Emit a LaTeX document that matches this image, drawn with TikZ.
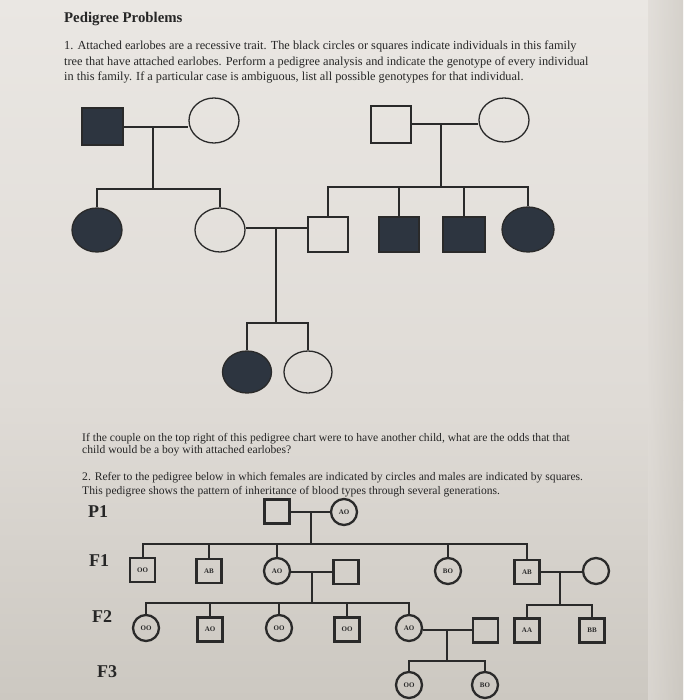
\documentclass[tikz,border=0pt]{standalone}
\usepackage{fontspec}
\setmainfont{Liberation Serif}
\usetikzlibrary{shapes.geometric}
\definecolor{linec}{HTML}{2A2A2A}
\definecolor{affc}{HTML}{2D3540}
\definecolor{bgtop}{HTML}{EAE7E3}
\definecolor{bgmid}{HTML}{DFDBD6}
\definecolor{bgbot}{HTML}{CCC8C1}
\definecolor{txtc}{HTML}{262626}
\begin{document}
\begin{tikzpicture}[x=1pt,y=-1pt,
  pline/.style={draw=linec, line width=1.3pt},
  male/.style={rectangle, draw=linec, line width=1.3pt, inner sep=0pt, minimum width=40pt, minimum height=36pt},
  female/.style={ellipse, draw=linec, line width=1.3pt, inner sep=0pt, minimum width=50pt, minimum height=44pt},
  aff/.style={fill=affc},
  bline/.style={draw=linec, line width=2pt},
  bm/.style={rectangle, draw=linec, line width=2.3pt, inner sep=0pt, minimum width=25pt, minimum height=24pt, font=\fontsize{7}{7}\selectfont\bfseries, text=linec},
  bf/.style={circle, draw=linec, line width=2.3pt, inner sep=0pt, minimum size=26pt, font=\fontsize{7}{7}\selectfont\bfseries, text=linec},
  gen/.style={font=\fontsize{18}{18}\selectfont\bfseries, anchor=west, inner sep=0pt, text=txtc},
  para/.style={anchor=north west, inner sep=0pt, align=left, text=txtc}
]
\useasboundingbox (0,0) rectangle (683,700);
\shade[top color=bgtop, bottom color=bgmid] (0,0) rectangle (683,400);
\shade[top color=bgmid, bottom color=bgbot] (0,400) rectangle (683,700);
\shade[left color=bgmid, right color=bgbot, opacity=0.7] (648,0) rectangle (683,700);

% ---------- texts ----------
\node[anchor=west, inner sep=0pt, font=\fontsize{14.8}{14.8}\selectfont\bfseries, text=txtc] (title) at (64,19) {Pedigree Problems};
\node[para, font=\fontsize{12.3}{15.5}\selectfont] (p1) at (64,41) {1. Attached earlobes are a recessive trait. The black circles or squares indicate individuals in this family\\
tree that have attached earlobes. Perform a pedigree analysis and indicate the genotype of every individual\\
in this family. If a particular case is ambiguous, list all possible genotypes for that individual.};
\node[para, font=\fontsize{11.6}{12.5}\selectfont] (q1) at (82,433) {If the couple on the top right of this pedigree chart were to have another child, what are the odds that that\\
child would be a boy with attached earlobes?};
\node[para, font=\fontsize{11.6}{14.5}\selectfont] (q2) at (82,472) {2. Refer to the pedigree below in which females are indicated by circles and males are indicated by squares.\\
This pedigree shows the pattern of inheritance of blood types through several generations.};

% ---------- pedigree 1 ----------
\node[male, aff, minimum width=41pt, minimum height=37pt] (m1) at (102.5,126.5) {};
\node[female, minimum height=45pt] (f1) at (214,120.5) {};
\node[male, minimum height=37pt] (m2) at (391,124.5) {};
\node[female] (f2) at (504,120) {};
\coordinate (c1) at (153,127);
\coordinate (s1) at (153,189);
\coordinate (c2) at (441,124);
\coordinate (s2) at (441,187);
\draw[pline] (m1.east |- c1) -- (c1 -| f1.west);
\draw[pline] (c1) -- (s1);
\draw[pline] (m2.east |- c2) -- (c2 -| f2.west);
\draw[pline] (c2) -- (s2);

\node[female, aff] (d1) at (97,230) {};
\node[female] (d2) at (220,230) {};
\node[male, minimum height=35pt] (d3) at (328,234.5) {};
\node[male, aff, minimum height=35pt] (d4) at (399,234.5) {};
\node[male, aff, minimum width=42pt, minimum height=35pt] (d5) at (464,234.5) {};
\node[female, aff, minimum width=52pt, minimum height=45pt] (d6) at (528,229.5) {};
\draw[pline] (d1.north) -- (d1.north |- s1) -- (d2.north |- s1) -- (d2.north);
\draw[pline] (d3.north) -- (d3.north |- s2) -- (d6.north |- s2) -- (d6.north);
\draw[pline] (d4.north) -- (d4.north |- s2);
\draw[pline] (d5.north) -- (d5.north |- s2);

\coordinate (c3) at (276,228);
\coordinate (s3) at (276,323);
\draw[pline] (d2.east |- c3) -- (c3 -| d3.west);
\draw[pline] (c3) -- (s3);
\node[female, aff, minimum width=49pt, minimum height=42pt] (g1) at (247,372) {};
\node[female, minimum width=48pt, minimum height=42pt] (g2) at (308,372) {};
\draw[pline] (g1.north) -- (g1.north |- s3) -- (g2.north |- s3) -- (g2.north);

% ---------- pedigree 2 ----------
\node[gen] (lp1) at (88,512) {P1};
\node[gen] (lf1) at (89,561) {F1};
\node[gen] (lf2) at (92,617) {F2};
\node[gen] (lf3) at (97,672) {F3};

\node[bm] (pm) at (277,511.5) {};
\node[bf] (pf) at (344,512) {AO};
\coordinate (c4) at (311,512);
\coordinate (s4) at (311,544);
\draw[bline] (pm.east |- c4) -- (pf.west |- c4);
\draw[bline] (c4) -- (s4);

\node[bm] (a1) at (142.5,570) {OO};
\node[bm] (a2) at (209,571) {AB};
\node[bf] (a3) at (277,571) {AO};
\node[bm] (a4) at (346,572) {};
\node[bf] (a5) at (448,571) {BO};
\node[bm] (a6) at (527,572) {AB};
\node[bf] (a7) at (596,571) {};
\draw[bline] (a1.north) -- (a1.north |- s4) -- (a6.north |- s4) -- (a6.north);
\draw[bline] (a2.north) -- (a2.north |- s4);
\draw[bline] (a3.north) -- (a3.north |- s4);
\draw[bline] (a5.north) -- (a5.north |- s4);

\coordinate (c5) at (312,572);
\coordinate (s5) at (312,603);
\draw[bline] (a3.east |- c5) -- (a4.west |- c5);
\draw[bline] (c5) -- (s5);
\coordinate (c6) at (560,572);
\coordinate (s6) at (560,605);
\draw[bline] (a6.east |- c6) -- (a7.west |- c6);
\draw[bline] (c6) -- (s6);

\node[bf] (b1) at (146,628) {OO};
\node[bm] (b2) at (210,629.5) {AO};
\node[bf] (b3) at (279,628) {OO};
\node[bm] (b4) at (347,629.5) {OO};
\node[bf] (b5) at (409,628) {AO};
\node[bm] (b6) at (485.5,630.5) {};
\node[bm] (b7) at (527,630.5) {AA};
\node[bm] (b8) at (592,630.5) {BB};
\draw[bline] (b1.north) -- (b1.north |- s5) -- (b5.north |- s5) -- (b5.north);
\draw[bline] (b2.north) -- (b2.north |- s5);
\draw[bline] (b3.north) -- (b3.north |- s5);
\draw[bline] (b4.north) -- (b4.north |- s5);
\draw[bline] (b7.north) -- (b7.north |- s6) -- (b8.north |- s6) -- (b8.north);

\coordinate (c7) at (447,630);
\coordinate (s7) at (447,661);
\draw[bline] (b5.east |- c7) -- (b6.west |- c7);
\draw[bline] (c7) -- (s7);
\node[bf] (e1) at (409,685) {OO};
\node[bf] (e2) at (485,685) {BO};
\draw[bline] (e1.north) -- (e1.north |- s7) -- (e2.north |- s7) -- (e2.north);
\end{tikzpicture}
\end{document}
